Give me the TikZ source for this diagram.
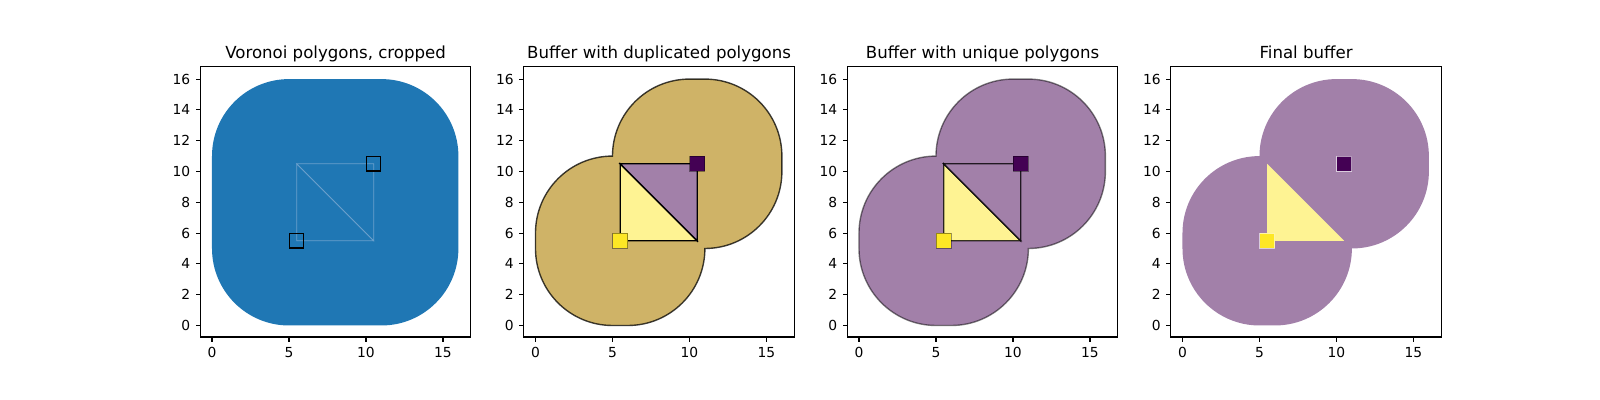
\documentclass[tikz,border=0pt]{standalone}
\usepackage{fontspec}
\setmainfont{DejaVu Sans}

\definecolor{tabblue}{HTML}{1F77B4}
\definecolor{cellline}{HTML}{6A9FCC}
\definecolor{vyellow}{HTML}{FDE725}
\definecolor{vpurple}{HTML}{440154}
\definecolor{lyellow}{HTML}{FEF393}
\definecolor{lpurple}{HTML}{A280A9}
\definecolor{dupfill}{HTML}{CFB367}

\begin{document}
\begin{tikzpicture}[x=0.154in, y=0.154in,
  frame/.style={line width=0.8pt, black},
  tickmark/.style={line width=0.8pt, black},
  ticklabel/.style={font=\fontsize{10}{12}\selectfont, inner sep=0pt},
  paneltitle/.style={font=\fontsize{12}{14}\selectfont, inner sep=0pt, anchor=base},
  hollow/.style={rectangle, draw=black, line width=1pt, minimum size=10.2pt, inner sep=0pt},
  ptmark/.style={rectangle, draw=black, draw opacity=0.4, line width=0.5pt,
                 minimum size=11pt, inner sep=0pt},
  lightmark/.style={ptmark, draw=white, draw opacity=0.6},
  cropbox/.style={insert path={(0,5) arc (180:270:5) -- (11,0) arc (270:360:5)
                 -- (16,11) arc (0:90:5) -- (5,16) arc (90:180:5) -- cycle}},
  bufferpath/.style={insert path={(0,5) arc (180:270:5) -- ++(1,0) arc (270:360:5)
                 arc (270:360:5) -- ++(0,1) arc (0:90:5) -- ++(-1,0) arc (90:180:5)
                 arc (90:180:5) -- cycle}},
  lowertri/.style={insert path={(5.5,5.5) -- (10.5,5.5) -- (5.5,10.5) -- cycle}},
  uppertri/.style={insert path={(10.5,10.5) -- (5.5,10.5) -- (10.5,5.5) -- cycle}}
]
  \useasboundingbox (0,0) rectangle (103.896,25.974);

  % Voronoi polygons, cropped
  \begin{scope}[shift={(13.766,4.838)}]
    \fill[tabblue, cropbox];
    \draw[cellline, line width=0.5pt, lowertri];
    \draw[cellline, line width=0.5pt, uppertri];
    \node[hollow] (pa1) at (5.5,5.5) {};
    \node[hollow] (pb1) at (10.5,10.5) {};
  \end{scope}

  % duplicated polygons
  \begin{scope}[shift={(34.772,4.838)}]
    \path[fill=dupfill, draw=black, draw opacity=0.75, line width=1pt, bufferpath];
    \path[fill=lyellow, draw=black, line width=1pt, lowertri];
    \path[fill=lpurple, draw=black, line width=1pt, uppertri];
    \node[ptmark, fill=vyellow] (pa2) at (5.5,5.5) {};
    \node[ptmark, fill=vpurple] (pb2) at (10.5,10.5) {};
  \end{scope}

  % unique polygons
  \begin{scope}[shift={(55.778,4.838)}]
    \path[fill=lpurple, draw=black, draw opacity=0.5, line width=1pt, bufferpath];
    \path[fill=lyellow, draw=black, draw opacity=0.8, line width=1pt, lowertri];
    \path[fill=lpurple, draw=black, draw opacity=0.8, line width=1pt, uppertri];
    \node[ptmark, fill=vyellow] (pa3) at (5.5,5.5) {};
    \node[ptmark, fill=vpurple] (pb3) at (10.5,10.5) {};
  \end{scope}

  % final buffer
  \begin{scope}[shift={(76.784,4.838)}]
    \fill[lpurple, bufferpath];
    \fill[lyellow, lowertri];
    \node[lightmark, fill=vyellow] (pa4) at (5.5,5.5) {};
    \node[lightmark, fill=vpurple] (pb4) at (10.5,10.5) {};
  \end{scope}

  % axes, ticks and titles
  \foreach \p/\ttl in {0/{Voronoi polygons, cropped}, 1/{Buffer with duplicated polygons},
                       2/{Buffer with unique polygons}, 3/{Final buffer}} {
    \begin{scope}[shift={({13.766+21.006*\p},4.838)}]
      \draw[frame] (-0.75,-0.75) rectangle (16.8,16.8);
      \node[paneltitle, yshift=6pt] (title\p) at (8.025,16.8) {\ttl};
      \foreach \t in {0,5,10,15}
        \draw[tickmark] (\t,-0.75) -- ++(0,-3.5pt)
          node[ticklabel, below=3.5pt] (xl\p-\t) {\t};
      \foreach \t in {0,2,...,16}
        \draw[tickmark] (-0.75,\t) -- ++(-3.5pt,0)
          node[ticklabel, left=3.5pt] (yl\p-\t) {\t};
    \end{scope}
  }
\end{tikzpicture}
\end{document}
